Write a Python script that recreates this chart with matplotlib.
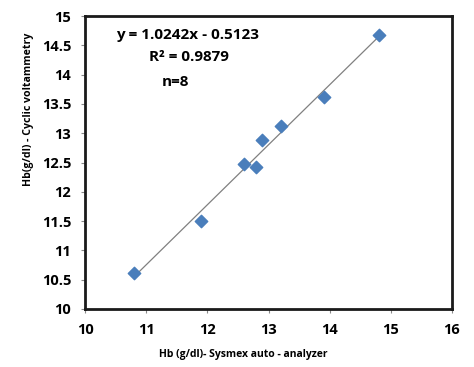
import matplotlib
matplotlib.use("Agg")
import matplotlib.pyplot as plt
import numpy as np

x_vals = [10.8, 11.9, 12.6, 12.8, 12.9, 13.2, 13.9, 14.8]
y_vals = [10.62, 11.51, 12.48, 12.42, 12.89, 13.12, 13.62, 14.68]
slope = 1.0242
intercept = -0.5123
r2 = 0.9879
n_points = 8
x_ticks = [10, 11, 12, 13, 14, 15, 16]
y_ticks = [10, 10.5, 11, 11.5, 12, 12.5, 13, 13.5, 14, 14.5, 15]
y_tick_labels = ["10", "10.5", "11", "11.5", "12", "12.5", "13", "13.5", "14", "14.5", "15"]
x_label = "Hb (g/dl)- Sysmex auto - analyzer"
y_label = "Hb(g/dl) - Cyclic voltammetry"

plt.rcParams['font.family'] = ['Open Sans', 'DejaVu Sans']

fig = plt.figure(figsize=(4.74, 3.67), dpi=100)
ax = fig.add_axes([85/474, 1 - 309/367, (452-85)/474, (309-16)/367])

xl = np.array([min(x_vals), max(x_vals)])
ax.plot(xl, slope * xl + intercept, color='#808080', lw=0.9, zorder=2)
ax.scatter(x_vals, y_vals, marker='D', s=40, color='#4A7EBB', edgecolors='#4A7EBB', zorder=3)

ax.set_xlim(10, 16)
ax.set_ylim(10, 15)
ax.set_xticks(x_ticks)
ax.set_xticklabels([str(t) for t in x_ticks])
ax.set_yticks(y_ticks)
ax.set_yticklabels(y_tick_labels)
for lab in ax.get_xticklabels() + ax.get_yticklabels():
    lab.set_fontweight('bold')
    lab.set_fontsize(10.5)
ax.tick_params(axis='both', direction='out', length=3, width=0.8, color='#888888', pad=7)

for s in ax.spines.values():
    s.set_linewidth(2)
    s.set_color('#1a1a1a')

ax.set_xlabel(x_label, fontsize=7.5, fontweight='bold')
ax.set_ylabel(y_label, fontsize=7.6, fontweight='bold')
ax.xaxis.set_label_coords(0.43, -0.135)
ax.yaxis.set_label_coords(-0.14, 0.68)

sign = '-' if intercept < 0 else '+'
ax.text(188, 35, f"y = {slope:.4f}x {sign} {abs(intercept):.4f}",
        fontsize=11, fontweight='bold', ha='center', va='center')
ax.text(189, 57, f"R² = {r2:.4f}", fontsize=11, fontweight='bold', ha='center', va='center')
ax.text(175, 82, f"n={n_points}", fontsize=11, fontweight='bold', ha='center', va='center')

# place texts in pixel coordinates (top-left origin)
for t in ax.texts:
    px, py = t.get_position()
    t.set_transform(fig.transFigure)
    t.set_position((px / 474, 1 - py / 367))

fig.savefig("out.png", dpi=100, facecolor='white')
